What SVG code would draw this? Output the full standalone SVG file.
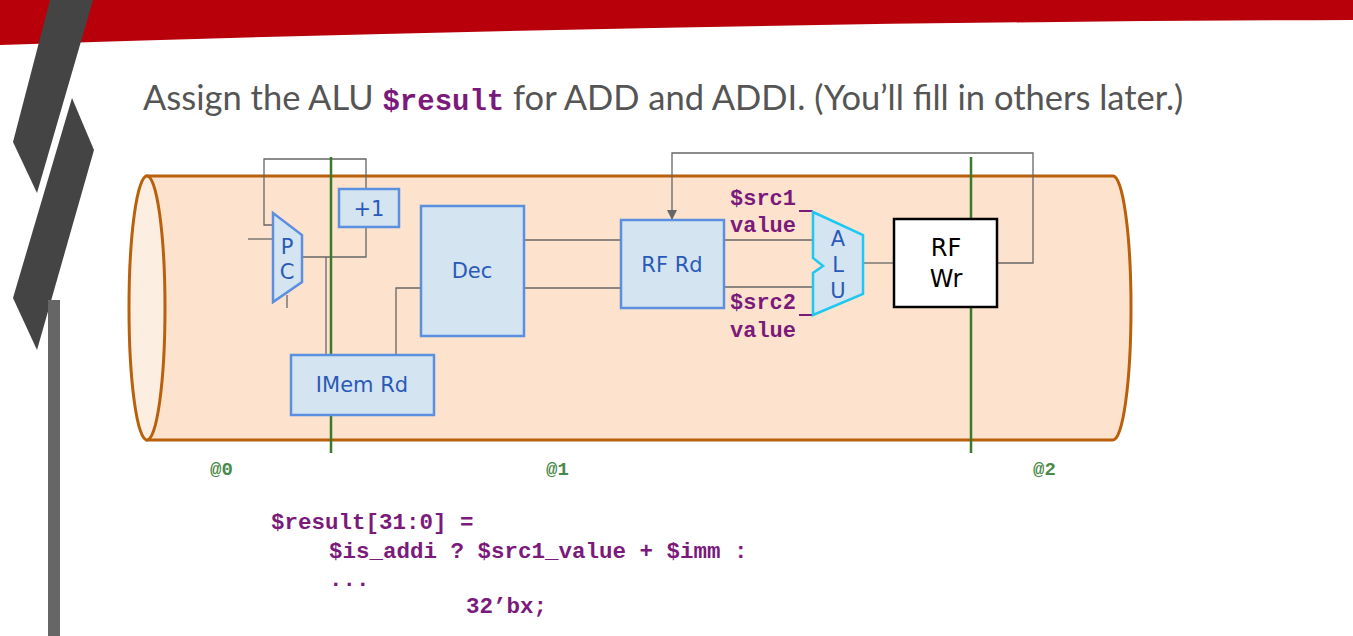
<svg xmlns="http://www.w3.org/2000/svg" width="1353" height="636" viewBox="0 0 1353 636">
<style>
.w{fill:none;stroke:#666;stroke-width:1.3}
.b{fill:#d4e4f1;stroke:#5b8fe0;stroke-width:2.5}
.t{font-family:"DejaVu Sans",sans-serif;font-size:21px;fill:#2a5ab8;text-anchor:middle}
.m{font-family:"Liberation Mono",monospace;font-weight:bold;fill:#7b1a7b}
.g{font-family:"Liberation Mono",monospace;font-weight:bold;font-size:19px;fill:#4a8a4a}
</style>
<defs><marker id="ar" markerWidth="10" markerHeight="10" refX="10" refY="5" orient="auto" markerUnits="userSpaceOnUse"><path d="M0,0L10,5L0,10Z" fill="#666"/></marker></defs>
<rect width="1353" height="636" fill="#fff"/>
<path d="M0,0H1353V20Q700,22 0,45Z" fill="#b8000a"/>
<g id="logo">
<polygon points="50,0 93,0 37,193 13,142" fill="#444"/>
<polygon points="72,98 94,150 37,350 13,298" fill="#444"/>
<rect x="48" y="300" width="12" height="336" fill="#666"/>
</g>
<text x="143" y="110" font-family="Lato,sans-serif" font-size="34.5" fill="#555">Assign the ALU <tspan class="m" font-size="29">$result</tspan> for ADD and ADDI. (You’ll fill in others later.)</text>
<g id="pipe">
<path d="M147,176H1113A18,132 0 0 1 1113,440H147Z" fill="#fde3cd" stroke="#b8600c" stroke-width="3"/>
<ellipse cx="147" cy="308" rx="18" ry="132" fill="#fdeee2" stroke="#b8600c" stroke-width="3"/>
</g>
<g id="connectors">
<polyline class="w" points="273,225 264,225 264,159 366,159 366,189"/>
<polyline class="w" points="366,227 366,257 302,257"/>
<line class="w" x1="248" y1="239" x2="273" y2="239"/>
<line class="w" x1="287" y1="295" x2="287" y2="308"/>
<line class="w" x1="326" y1="257" x2="326" y2="355"/>
<polyline class="w" points="396,355 396,288 421,288"/>
<line class="w" x1="524" y1="240" x2="621" y2="240"/>
<line class="w" x1="524" y1="288" x2="621" y2="288"/>
<line class="w" x1="724" y1="240" x2="813" y2="240"/>
<line class="w" x1="724" y1="287" x2="813" y2="287"/>
<line class="w" x1="862" y1="263" x2="894" y2="263"/>
<polyline class="w" points="997,263 1033,263 1033,153 672,153 672,220" marker-end="url(#ar)"/>
<line x1="799" y1="211" x2="813" y2="211" stroke="#7b1a7b" stroke-width="2"/>
<line x1="799" y1="315" x2="813" y2="315" stroke="#7b1a7b" stroke-width="2"/>
</g>
<g id="stages">
<line x1="331" y1="157" x2="331" y2="453" stroke="#3a7a2a" stroke-width="2.5"/>
<line x1="971" y1="157" x2="971" y2="453" stroke="#3a7a2a" stroke-width="2.5"/>
</g>
<g id="pc"><polygon class="b" points="273,213 302,235 302,282 273,302"/><text class="t" x="287" y="254">P</text><text class="t" x="287" y="279">C</text></g>
<g id="plus1"><rect class="b" x="339" y="189" width="60" height="38"/><text class="t" x="369" y="216">+1</text></g>
<g id="dec"><rect class="b" x="421" y="206" width="103" height="130"/><text class="t" x="472" y="278">Dec</text></g>
<g id="rfrd"><rect class="b" x="621" y="220" width="103" height="88"/><text class="t" x="672" y="272">RF Rd</text></g>
<g id="imem"><rect class="b" x="291" y="355" width="143" height="60"/><text class="t" x="362" y="392">IMem Rd</text></g>
<g id="alu"><polygon points="813,212 863,235 863,294 813,315 813,273 823,266 813,258" fill="#d4e4f1" stroke="#1ec8f0" stroke-width="2.5"/>
<text class="t" x="838" y="246">A</text><text class="t" x="838" y="272">L</text><text class="t" x="838" y="298">U</text></g>
<g id="rfwr"><rect x="894" y="219" width="103" height="88" fill="#fff" stroke="#000" stroke-width="2.5"/>
<text x="946" y="256" font-family="DejaVu Sans,sans-serif" font-size="24" text-anchor="middle">RF</text>
<text x="946" y="287" font-family="DejaVu Sans,sans-serif" font-size="24" text-anchor="middle">Wr</text></g>
<g font-size="22">
<text class="m" x="730" y="205">$src1</text><text class="m" x="730" y="232">value</text>
<text class="m" x="730" y="309">$src2</text><text class="m" x="730" y="337">value</text>
</g>
<text class="g" x="210" y="475">@0</text><text class="g" x="546" y="475">@1</text><text class="g" x="1033" y="475">@2</text>
<g font-size="22.5">
<text class="m" x="271" y="529">$result[31:0] =</text>
<text class="m" x="329" y="558">$is_addi ? $src1_value + $imm :</text>
<text class="m" x="329" y="586">...</text>
<text class="m" x="466" y="613">32’bx;</text>
</g>
</svg>
